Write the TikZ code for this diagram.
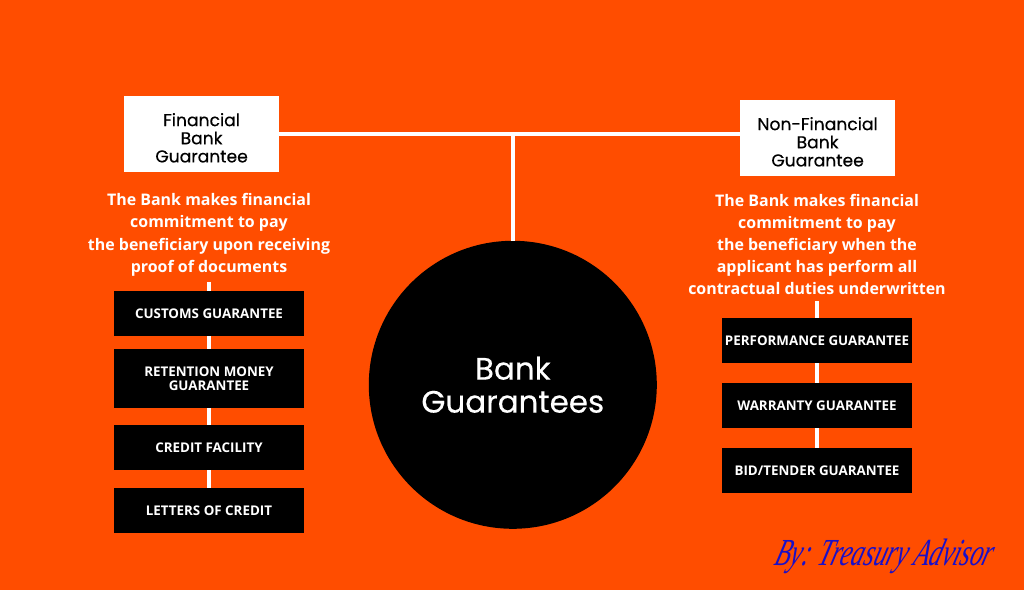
\documentclass[tikz,border=0pt]{standalone}
\usepackage{xcolor}
\usepackage{fontspec}
\setmainfont{Open Sans}
\newfontfamily\headfont[FakeBold=0.35]{Poppins}
\newfontfamily\signfont[FakeSlant=0.3,FakeStretch=0.66]{Liberation Serif Italic}
\usetikzlibrary{positioning}
\definecolor{bgorange}{HTML}{FF4D00}
\definecolor{signblue}{HTML}{1A0FC8}
\tikzset{
    headbox/.style={draw=none, fill=white, rectangle, minimum width=3.875cm, minimum height=1.9cm, inner sep=0pt, align=center, text=black, text height=40.5pt, font=\headfont\fontsize{12.2}{12.9}\selectfont},
    typebox/.style={draw=none, fill=black, rectangle, minimum width=4.75cm, minimum height=1.125cm, inner sep=0pt, align=center, text=white, font=\bfseries\fontsize{9.5}{10}\selectfont},
    note/.style={text=white, align=center, inner xsep=0pt, inner ysep=4pt, font=\bfseries\fontsize{11.35}{15.7}\selectfont},
    link/.style={draw=white, line width=2.9pt}
}
\begin{document}
\begin{tikzpicture}
    \useasboundingbox[fill=bgorange] (0,0) rectangle (25.6,14.75);

    % Centre
    \node [circle, fill=black, text=white, minimum size=7.2cm, inner sep=0pt, align=center, font=\headfont\fontsize{22}{23.5}\selectfont] (bank) at (12.82,5.13) {Bank\\Guarantees};

    % Headings
    \node [headbox] (fin) at (5.04,11.4) {Financial\\Bank\\Guarantee};
    \node [headbox] (nonfin) at (20.44,11.3) {Non-Financial\\Bank\\Guarantee};
    \coordinate (join) at ([yshift=-0.2pt]bank.north |- fin.east);
    \draw [link] ([yshift=-0.3pt]fin.east) -- ([yshift=-0.3pt]fin.east -| nonfin.west);
    \draw [link] (bank.north) -- (join);

    % Financial side
    \node [note] (finnote) at (5.225,8.88) {The Bank makes financial\\commitment to pay\\the beneficiary upon receiving\\proof of documents};
    \node [typebox] (customs) at (5.225,6.91) {CUSTOMS GUARANTEE};
    \node [typebox, minimum height=1.475cm] (retention) at (5.225,5.29) {RETENTION MONEY\\GUARANTEE};
    \node [typebox] (credit) at (5.225,3.56) {CREDIT FACILITY};
    \node [typebox] (letters) at (5.225,1.99) {LETTERS OF CREDIT};
    \draw [link] (finnote.south) -- (customs);
    \draw [link] (customs) -- (retention);
    \draw [link] (retention) -- (credit);
    \draw [link] (credit) -- (letters);

    % Non-financial side
    \node [note] (nonnote) at (20.425,8.63) {The Bank makes financial\\commitment to pay\\the beneficiary when the\\applicant has perform all\\contractual duties underwritten};
    \node [typebox] (perform) at (20.425,6.24) {PERFORMANCE GUARANTEE};
    \node [typebox] (warranty) at (20.425,4.61) {WARRANTY GUARANTEE};
    \node [typebox] (bid) at (20.425,2.99) {BID/TENDER GUARANTEE};
    \draw [link] (nonnote.south) -- (perform);
    \draw [link] (perform) -- (warranty);
    \draw [link] (warranty) -- (bid);

    \node [text=signblue, font=\signfont\fontsize{27.2}{27.2}\selectfont] (sign) at (22.05,0.85) {By: Treasury Advisor};
\end{tikzpicture}
\end{document}
